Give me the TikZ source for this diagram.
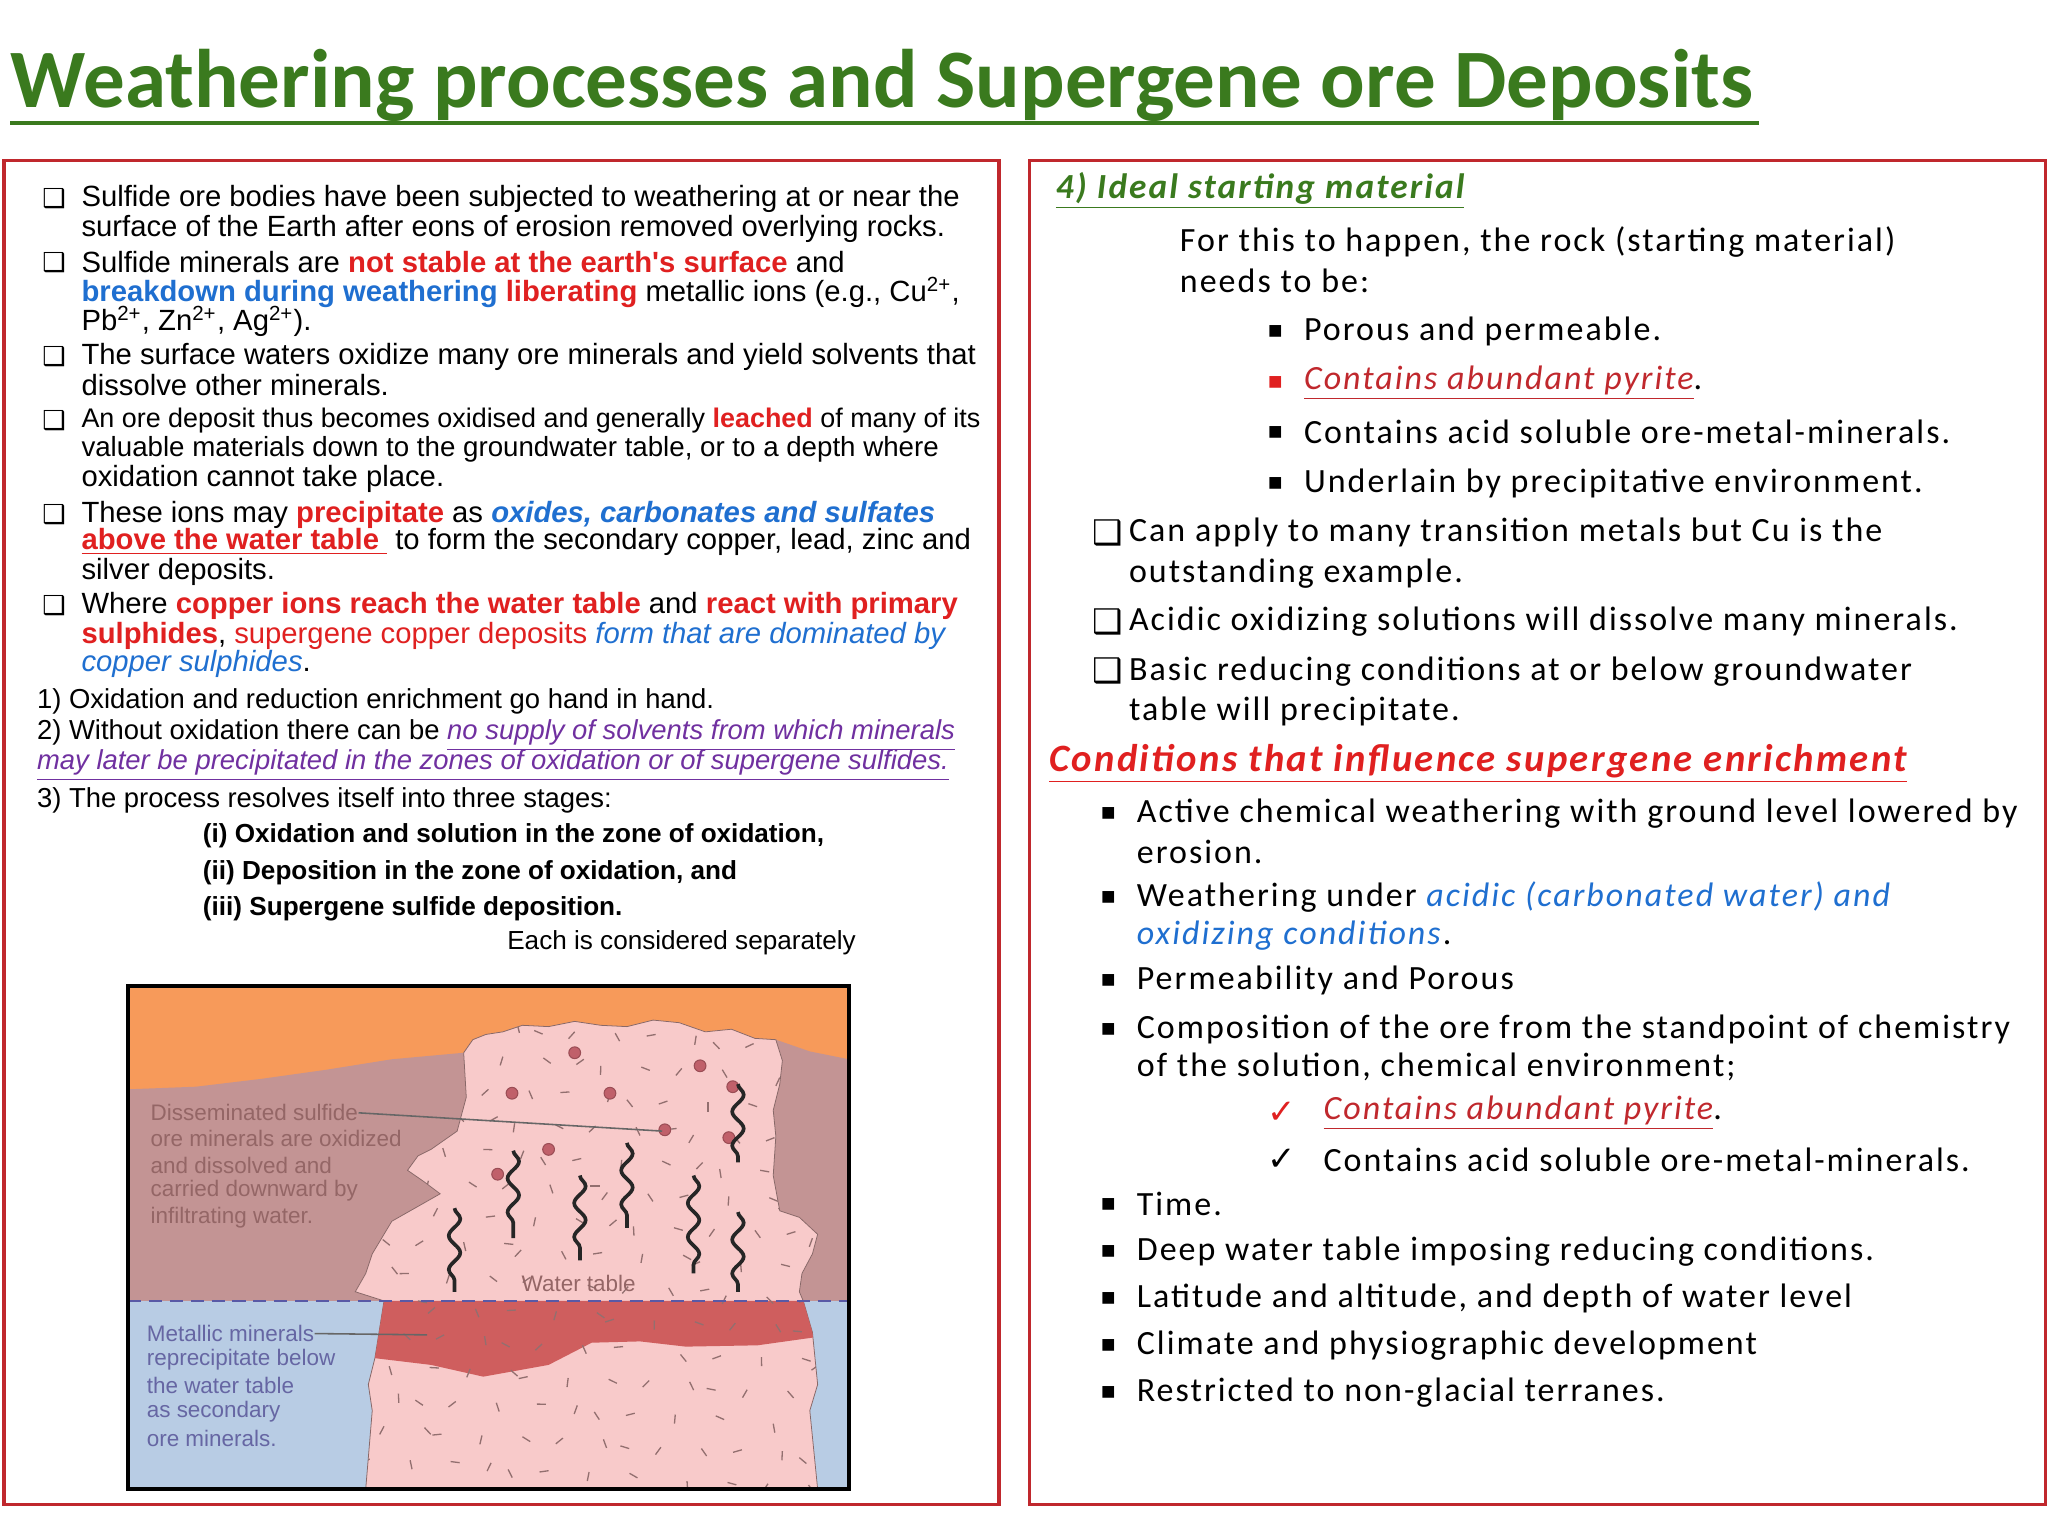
\documentclass[tikz,border=0pt]{standalone}
\usepackage{fontspec}
\setmainfont{Carlito}
\newfontfamily\rfont[LetterSpace=6]{Carlito}
\newfontfamily\ar{Liberation Sans}
\newfontfamily\djv{DejaVu Sans}
\usetikzlibrary{decorations.pathmorphing}
\definecolor{tgreen}{HTML}{3A7A1E}
\definecolor{rred}{HTML}{E02020}
\definecolor{bblue}{HTML}{1F6FD0}
\definecolor{ppurp}{HTML}{7030A0}
\definecolor{dred}{HTML}{C0282D}
\definecolor{orng}{HTML}{F79A5A}
\definecolor{brwn}{HTML}{C39494}
\definecolor{lblue}{HTML}{B8CCE4}
\definecolor{opink}{HTML}{F8CACA}
\definecolor{band}{HTML}{CF5E5E}
\definecolor{dotc}{HTML}{C0606A}
\newcommand\xRd[1]{\textcolor{rred}{\textbf{#1}}}
\newcommand\xBl[1]{\textcolor{bblue}{\textbf{#1}}}
\newcommand\xBI[1]{\textcolor{bblue}{\textit{#1}}}
\newcommand\xBBI[1]{\textcolor{bblue}{\textbf{\textit{#1}}}}
\newcommand\cbx{{\djv ❑}}
\newcommand\sqb{{\djv\fontsize{9}{9}\selectfont ▪}}
\newcommand\ckm{{\djv ✓}}
\tikzset{
  lt/.style={anchor=west,inner sep=0,font=\ar\fontsize{11.2}{12}\selectfont},
  ln/.style={anchor=west,inner sep=0,font=\ar\fontsize{10.5}{12}\selectfont},
  rt/.style={anchor=west,inner sep=0,font=\rfont\fontsize{13}{15}\selectfont},
  panel/.style={draw=dred,line width=1.3pt},
  sqg/.style={draw=black!85,line width=1.4pt,decorate,decoration={snake,amplitude=2.2pt,segment length=13pt}},
  dot/.style={fill=dotc,draw=dotc!80!black,line width=0.4pt},
  lbl/.style={anchor=west,inner sep=0,font=\ar\fontsize{8.6}{10}\selectfont}
}
\begin{document}
\begin{tikzpicture}[x=0.5pt,y=-0.5pt]
\useasboundingbox (0,0) rectangle (1568,1176);
\fill[white] (0,0) rectangle (1568,1176);
% title
\node[anchor=base west,inner sep=0,font=\fontsize{31.8}{33}\selectfont\bfseries,text=tgreen] (title) at (8,82) {Weathering processes and Supergene ore Deposits};
\draw[tgreen,line width=1.5pt] (8,94) -- (1347,94);
% panels
\draw[panel] (3,123) rectangle (765,1152);
\draw[panel] (788,123) rectangle (1566,1152);
% left text
\foreach \yy in {152,201,273,322,394,464}{\node[lt,font=\fontsize{10}{10}\selectfont] at (32,\yy) {\cbx};}
\node[lt] at (62,152) {Sulfide ore bodies have been subjected to weathering at or near the};
\node[lt] at (62,175) {surface of the Earth after eons of erosion removed overlying rocks.};
\node[lt] at (62,201) {Sulfide minerals are \xRd{not stable at the earth's surface} and};
\node[lt] at (62,224) {\xBl{breakdown during weathering} \xRd{liberating} metallic ions (e.g., Cu\textsuperscript{2+},};
\node[lt] at (62,246) {Pb\textsuperscript{2+}, Zn\textsuperscript{2+}, Ag\textsuperscript{2+}).};
\node[lt] at (62,273) {The surface waters oxidize many ore minerals and yield solvents that};
\node[lt] at (62,295) {dissolve other minerals.};
\node[lt,font=\ar\fontsize{10.3}{12}\selectfont] at (62,322) {An ore deposit thus becomes oxidised and generally \xRd{leached} of many of its};
\node[lt,font=\ar\fontsize{10.6}{12}\selectfont] at (62,344) {valuable materials down to the groundwater table, or to a depth where};
\node[lt] at (62,367) {oxidation cannot take place.};
\node[lt] at (62,394) {These ions may \xRd{precipitate} as \xBBI{oxides, carbonates and sulfates}};
\node[lt] at (62,415) {\textcolor{rred}{\textbf{\underline{above the water table }}} to form the secondary copper, lead, zinc and};
\node[lt] at (62,438) {silver deposits.};
\node[lt] at (62,464) {Where \xRd{copper ions reach the water table} and \xRd{react with primary}};
\node[lt] at (62,487) {\xRd{sulphides}, \textcolor{rred}{supergene copper deposits} \xBI{form that are dominated by}};
\node[lt] at (62,508) {\xBI{copper sulphides}.};
\node[ln] at (28,537) {1) Oxidation and reduction enrichment go hand in hand.};
\node[ln] at (28,563) {2) Without oxidation there can be \textcolor{ppurp}{\textit{\underline{no supply of solvents from which minerals}}}};
\node[ln] at (28,586) {\textcolor{ppurp}{\textit{\underline{may later be precipitated in the zones of oxidation or of supergene sulfides.}}}};
\node[ln] at (28,613) {3) The process resolves itself into three stages:};
\node[ln,font=\ar\fontsize{10}{12}\selectfont\bfseries] at (155,640) {(i) Oxidation and solution in the zone of oxidation,};
\node[ln,font=\ar\fontsize{10}{12}\selectfont\bfseries] at (155,668) {(ii) Deposition in the zone of oxidation, and};
\node[ln,font=\ar\fontsize{10}{12}\selectfont\bfseries] at (155,696) {(iii) Supergene sulfide deposition.};
\node[ln,font=\ar\fontsize{10}{12}\selectfont] at (388,722) {Each is considered separately};
% ===== diagram
\fill[orng] (98,755) rectangle (650,1140);
\fill[brwn] (98,834) -- (150,832) -- (200,826) -- (250,819) -- (300,811) -- (355,806) -- (594,796) -- (620,805) -- (650,811) -- (650,996) -- (98,996) -- cycle;
\fill[lblue] (98,996) rectangle (650,1140);
\def\orepath{(355,806) -- (362,796) -- (372,792) -- (385,790) -- (400,785) -- (420,786) -- (440,782) -- (460,785) -- (480,786) -- (500,781) -- (520,783) -- (540,790) -- (560,788) -- (578,795) -- (594,796) -- (599,812) -- (597,830) -- (592,850) -- (594,870) -- (592,900) -- (597,927) -- (612,932) -- (626,945) -- (622,960) -- (614,975) -- (612,989) -- (615,996) -- (622,1020) -- (626,1060) -- (620,1080) -- (622,1100) -- (626,1140) -- (280,1140) -- (285,1080) -- (282,1060) -- (287,1040) -- (294,996) -- (272,989) -- (280,975) -- (285,960) -- (300,935) -- (337,914) -- (325,905) -- (312,896) -- (320,885) -- (330,880) -- (350,866) -- (357,840) -- cycle}
\fill[opink,draw=brwn!70!black,line width=0.3pt] \orepath;
\begin{scope}
\clip \orepath;
\fill[band] (280,996) -- (630,996) -- (630,1023) -- (580,1030) -- (525,1031) -- (490,1027) -- (453,1028) -- (420,1045) -- (370,1054) -- (330,1045) -- (280,1039) -- cycle;
\foreach \i in {1,...,190}{
  \pgfmathsetmacro\px{272+mod(\i*71,360)}
  \pgfmathsetmacro\py{780+mod(\i*53,362)}
  \pgfmathsetmacro\an{mod(\i*29,180)}
  \draw[brwn!75!black,line width=0.5pt] (\px,\py) -- ++(\an:7);
}
\end{scope}
\draw[dashed,dash pattern=on 5pt off 3pt,draw=gray!70!blue,line width=1pt] (98,996) -- (650,996);
\foreach \p in {(440,806),(536,816),(392,837),(467,837),(561,832),(509,865),(558,871),(420,880),(381,899)}{\fill[dot] \p circle (4.5);}
\draw[sqg] (348,925) -- (348,989);
\draw[sqg] (393,881) -- (393,948);
\draw[sqg] (444,900) -- (444,965);
\draw[sqg] (480,875) -- (480,940);
\draw[sqg] (531,900) -- (531,975);
\draw[sqg] (565,830) -- (565,890);
\draw[sqg] (565,928) -- (565,989);
\node[lbl,text=black!70!red!60] (dis) at (115,852) {Disseminated sulfide};
\node[lbl,text=black!70!red!60] at (115,872) {ore minerals are oxidized};
\node[lbl,text=black!70!red!60] at (115,892) {and dissolved and};
\node[lbl,text=black!70!red!60] at (115,912) {carried downward by};
\node[lbl,text=black!70!red!60] at (115,932) {infiltrating water.};
\coordinate (dot1) at (507,866);
\draw[black!60,line width=0.6pt] (dis.east) -- (dot1);
\node[lbl,text=black!70!red!60] at (399,983) {Water table};
\node[lbl,text=black!60!blue!60] (met) at (112,1021) {Metallic minerals};
\node[lbl,text=black!60!blue!60] at (112,1041) {reprecipitate below};
\node[lbl,text=black!60!blue!60] at (112,1061) {the water table};
\node[lbl,text=black!60!blue!60] at (112,1081) {as secondary};
\node[lbl,text=black!60!blue!60] at (112,1101) {ore minerals.};
\coordinate (band1) at (327,1022);
\draw[black!60,line width=0.6pt] (met.east) -- (band1);
\draw[black,line width=1.8pt] (98,755) rectangle (650,1140);
% ===== right text
\node[rt,font=\rfont\fontsize{13.5}{15}\selectfont\bfseries\itshape,text=tgreen] at (808,146) {\underline{4) Ideal starting material}};
\node[rt] at (903,185) {For this to happen, the rock (starting material)};
\node[rt] at (903,215) {needs to be:};
\foreach \yy in {254,331,370}{\node[rt] at (970,\yy) {\sqb};}
\node[rt,text=rred] at (970,293) {\sqb};
\node[rt] at (998,254) {Porous and permeable.};
\node[rt] at (998,293) {\textcolor{dred}{\textit{\underline{Contains abundant pyrite}}}.};
\node[rt] at (998,331) {Contains acid soluble ore-metal-minerals.};
\node[rt] at (998,370) {Underlain by precipitative environment.};
\foreach \yy in {408,476,514}{\node[rt,font=\fontsize{13}{13}\selectfont] at (836,\yy) {\cbx};}
\node[rt] at (864,408) {Can apply to many transition metals but Cu is the};
\node[rt] at (864,439) {outstanding example.};
\node[rt] at (864,476) {Acidic oxidizing solutions will dissolve many minerals.};
\node[rt] at (864,514) {Basic reducing conditions at or below groundwater};
\node[rt] at (864,545) {table will precipitate.};
\node[rt,font=\rfont\fontsize{14.8}{17}\selectfont\bfseries\itshape,text=rred] at (803,585) {\underline{Conditions that influence supergene enrichment}};
\foreach \yy in {623,687,751,788,922,958,994,1030,1066}{\node[rt] at (842,\yy) {\sqb};}
\node[rt] at (870,623) {Active chemical weathering with ground level lowered by};
\node[rt] at (870,652) {erosion.};
\node[rt] at (870,687) {Weathering under \xBI{acidic (carbonated water) and}};
\node[rt] at (870,716) {\xBI{oxidizing conditions}.};
\node[rt] at (870,751) {Permeability and Porous};
\node[rt] at (870,788) {Composition of the ore from the standpoint of chemistry};
\node[rt] at (870,817) {of the solution, chemical environment;};
\node[rt,text=rred] at (970,852) {\ckm};
\node[rt] at (970,888) {\ckm};
\node[rt] at (1013,852) {\textcolor{dred}{\textit{\underline{Contains abundant pyrite}}}.};
\node[rt] at (1013,888) {Contains acid soluble ore-metal-minerals.};
\node[rt] at (870,922) {Time.};
\node[rt] at (870,958) {Deep water table imposing reducing conditions.};
\node[rt] at (870,994) {Latitude and altitude, and depth of water level};
\node[rt] at (870,1030) {Climate and physiographic development};
\node[rt] at (870,1066) {Restricted to non-glacial terranes.};
\end{tikzpicture}
\end{document}
